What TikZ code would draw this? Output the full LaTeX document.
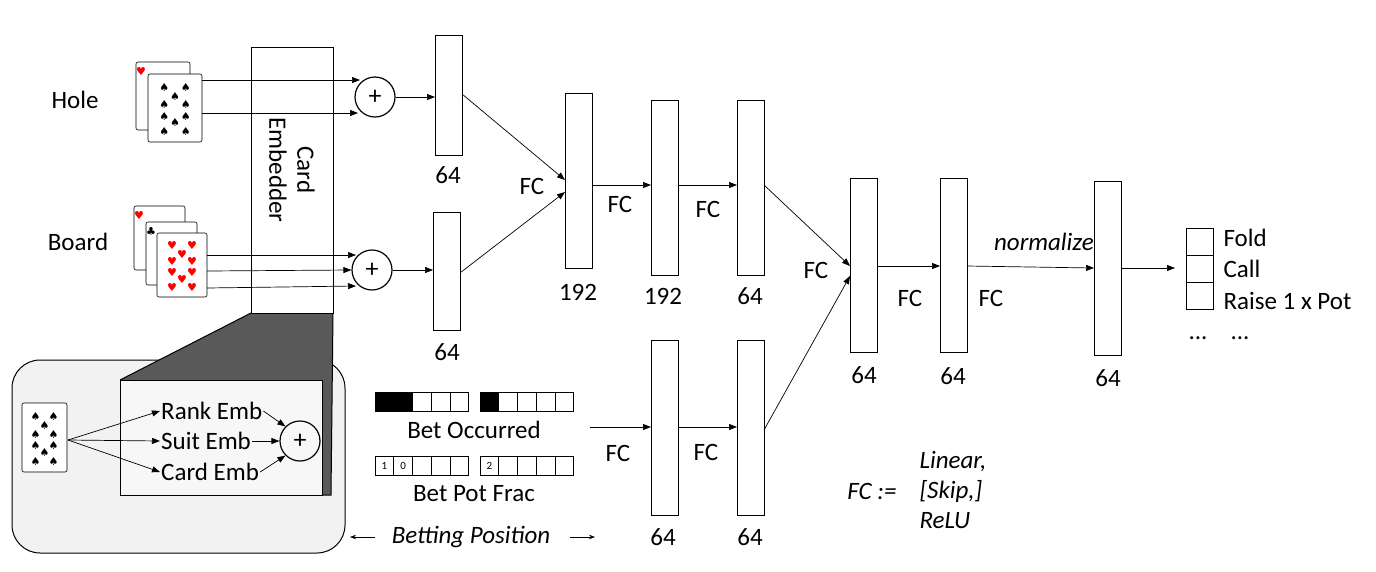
\documentclass[tikz,border=0pt]{standalone}
\usepackage{fontspec}
\setmainfont{Carlito}
\newfontfamily\sym{DejaVu Sans}
\usetikzlibrary{arrows.meta}
\begin{document}
\begin{tikzpicture}[x=1pt,y=-1pt,
  lay/.style={draw,line width=1.2pt},
  lbl/.style={font=\fontsize{25}{28}\selectfont},
  plus/.style={draw,line width=1.2pt,circle,minimum size=40pt,inner sep=0pt,font=\fontsize{26}{26}\selectfont},
  ar/.style={-{Triangle[length=8pt,width=6pt]},line width=0.7pt},
  card/.style={draw,fill=white,rounded corners=2pt,line width=0.6pt},
  cell/.style={draw,line width=0.8pt,minimum width=18.7pt,minimum height=19pt,inner sep=0pt,font=\fontsize{11}{11}\selectfont}]
\useasboundingbox (0,0) rectangle (1376,571);
\newcommand{\mycard}[6]{% x1,y1,x2,y2,color,symbol
  \draw[card] (#1,#2) rectangle (#3,#4);
  \foreach \u/\v in {0.3/0.2,0.7/0.2,0.5/0.33,0.3/0.45,0.7/0.45,0.3/0.62,0.7/0.62,0.5/0.72,0.3/0.85,0.7/0.85}
    \node[text=#5,font=\sym\fontsize{11}{11}\selectfont,inner sep=0pt] at ({#1+\u*(#3-#1)},{#2+\v*(#4-#2)}) {#6};
}
\newcommand{\backcard}[6]{%
  \draw[card] (#1,#2) rectangle (#3,#4);
  \node[text=#5,font=\sym\fontsize{11}{11}\selectfont,inner sep=0pt] at ({#1+5},{#2+9}) {#6};
}
% grey panel
\draw[line width=1pt,fill=black!5,rounded corners=28pt] (12,360) rectangle (345,553);
\fill[black!65] (251,313) -- (333,313) -- (331,495) -- (322,495) -- (322,380) -- (120,380) -- cycle;
\draw[line width=1pt,fill=black!3] (120,380) rectangle (322,495);
\draw[line width=1pt] (251,313) -- (120,380) (333,313) -- (331,495) -- (322,495);
% card embedder
\node[lay,minimum width=82pt,minimum height=266pt,anchor=north west] (emb) at (251,47) {};
\node[lbl,rotate=-90,align=center] at (292,170) {Card\\Embedder};
\node[lbl] (hole) at (75,100) {Hole};
\node[lbl] (board) at (78,242) {Board};
% cards
\backcard{136}{62}{190}{130}{red}{♥}
\mycard{148}{74}{202}{142}{black}{♠}
\backcard{134}{206}{185}{270}{red}{♥}
\backcard{146}{222}{197}{285}{black}{♣}
\mycard{157}{233}{207}{297}{red}{♥}
\mycard{22}{403}{67}{472}{black}{♠}
\coordinate (hc1) at (202,80); \coordinate (hc2) at (202,113);
\coordinate (bc1) at (207,255); \coordinate (bc2) at (207,271); \coordinate (bc3) at (207,288);
\node[plus] (p1) at (375,97) {+};
\node[plus] (p2) at (372,270) {+};
\draw[ar] (hc1) -- (360,80);
\draw[ar] (hc2) -- (358,113);
\draw[ar] (bc1) -- (356,255);
\draw[ar] (bc2) -- (p2.west);
\draw[ar] (bc3) -- (356,286);
% layer boxes
\node[lay,minimum width=27pt,minimum height=120pt,anchor=north west] (A) at (435,35) {};
\node[lay,minimum width=27pt,minimum height=118pt,anchor=north west] (B) at (433,212) {};
\node[lay,minimum width=27pt,minimum height=175pt,anchor=north west] (C) at (565,93) {};
\node[lay,minimum width=27pt,minimum height=175pt,anchor=north west] (D) at (651,100) {};
\node[lay,minimum width=27pt,minimum height=175pt,anchor=north west] (E) at (737,100) {};
\node[lay,minimum width=27pt,minimum height=174pt,anchor=north west] (F) at (850,178) {};
\node[lay,minimum width=27pt,minimum height=174pt,anchor=north west] (G) at (940,178) {};
\node[lay,minimum width=27pt,minimum height=174pt,anchor=north west] (H) at (1094,181) {};
\node[lay,minimum width=27pt,minimum height=175pt,anchor=north west] (I) at (651,340) {};
\node[lay,minimum width=27pt,minimum height=175pt,anchor=north west] (J) at (737,340) {};
\foreach \t/\x/\y in {64/448/175,64/447/352,192/578/292,192/663/296,64/750/296,64/864/375,64/953/376,64/1108/378,64/663/537,64/750/537}
  \node[lbl] at (\x,\y) {\t};
\draw[ar] (p1.east) -- (A.west|-p1);
\draw[ar] (p2.east) -- (B.west|-p2);
\draw[ar] (A.east|-0,95) -- (565,180);
\draw[ar] (B.east|-0,272) -- (565,192);
\draw[ar] (592,185) -- (D.west|-0,185);
\draw[ar] (678,185) -- (E.west|-0,185);
\draw[ar] (764,185) -- (850,266);
\draw[ar] (764,430) -- (850,276);
\draw[ar] (877,266) -- (G.west|-0,266);
\draw[ar] (967,266) -- (H.west|-0,268);
\coordinate (betin) at (590,427);
\draw[ar] (betin) -- (I.west|-betin);
\draw[ar] (678,427) -- (J.west|-0,427);
% output
\node[cell,minimum width=27pt,minimum height=27pt] (o1) at (1200,242) {};
\node[cell,minimum width=27pt,minimum height=27pt] (o2) at (1200,269) {};
\node[cell,minimum width=27pt,minimum height=27pt] (o3) at (1200,296) {};
\draw[ar] (H.east|-0,268) -- (1175,268);
\node[lbl,anchor=west] at (1220,238) {Fold};
\node[lbl,anchor=west] at (1220,269) {Call};
\node[lbl,anchor=west] at (1220,301) {Raise 1 x Pot};
\node[lbl] at (1198,338) {...};
\node[lbl] at (1240,338) {...};
\foreach \x/\y in {532/186,620/204,708/209,816/270,910/298,991/298,618/453,706/452}
  \node[lbl] at (\x,\y) {FC};
\node[lbl,font=\fontsize{25}{28}\selectfont\itshape] at (1044,242) {normalize};
% bet vectors
\foreach \i in {0,...,4} {
  \node[cell,fill=\ifnum\i<2 black\else white\fi] at (384.5+\i*18.7,401.5) {};
  \node[cell,fill=\ifnum\i<1 black\else white\fi] at (489.5+\i*18.7,401.5) {};
  \node[cell] at (384.5+\i*18.7,466) {\ifnum\i=0 1\fi\ifnum\i=1 0\fi};
  \node[cell] at (489.5+\i*18.7,466) {\ifnum\i=0 2\fi};
}
\node[lbl] at (474,430) {Bet Occurred};
\node[lbl] at (474,494) {Bet Pot Frac};
\node[lbl,font=\fontsize{25}{28}\selectfont\itshape] (bp) at (471,537) {Betting Position};
\draw[-{Stealth[length=6pt]},line width=0.7pt] (375,537) -- (350,537);
\draw[-{Stealth[length=6pt]},line width=0.7pt] (570,537) -- (595,537);
\node[lbl,font=\fontsize{25}{28}\selectfont\itshape] at (872,491) {FC :=};
\node[lbl,font=\fontsize{25}{30}\selectfont\itshape,align=left,anchor=west] at (916,490) {Linear,\\{[Skip,]}\\ReLU};
% inset
\node[lbl,anchor=west,inner sep=1pt] (re) at (160,411) {Rank Emb};
\node[lbl,anchor=west,inner sep=1pt] (se) at (160,441) {Suit Emb};
\node[lbl,anchor=west,inner sep=1pt] (ce) at (160,472) {Card Emb};
\node[plus] (p3) at (300,441) {+};
\coordinate (ic) at (68,440);
\draw[ar] (ic) -- (re.west);
\draw[ar] (ic) -- (se.west);
\draw[ar] (ic) -- (ce.west);
\draw[ar] (re.east) -- (p3.north west);
\draw[ar] (se.east) -- (p3.west);
\draw[ar] (ce.east) -- (p3.south west);
\end{tikzpicture}
\end{document}
